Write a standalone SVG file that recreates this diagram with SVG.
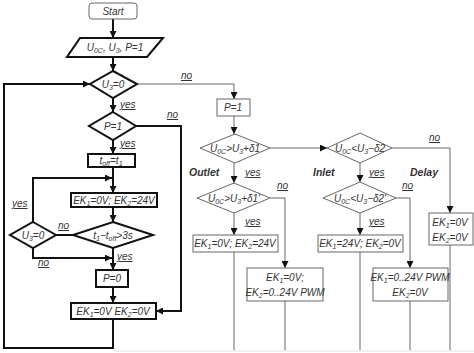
<svg xmlns="http://www.w3.org/2000/svg" width="474" height="353" viewBox="0 0 474 353">
<defs>
<style>
text{font-family:"Liberation Sans",Arial,sans-serif;font-style:italic;font-size:10px;fill:#333;text-anchor:middle}
.lbl{text-anchor:start;text-decoration:underline}
.bold{font-weight:bold;text-anchor:start;font-size:10.5px}
.sub{font-size:7px}
.thick{fill:#fff;stroke:#111;stroke-width:2}
.thin{fill:#fff;stroke:#666;stroke-width:1}
.lt{fill:none;stroke:#111;stroke-width:2}
.ln{fill:none;stroke:#666;stroke-width:1}
</style>
<marker id="ah" viewBox="0 0 10 10" refX="10" refY="5" markerUnits="userSpaceOnUse" markerWidth="9" markerHeight="7" orient="auto">
<path d="M0,0 L10,5 L0,10 z" fill="#111"/>
</marker>
</defs>
<g id="connectors">
<path class="lt" d="M113,19 V38" marker-end="url(#ah)"/>
<path class="lt" d="M113,57 V71" marker-end="url(#ah)"/>
<path class="lt" d="M113,98 V112" marker-end="url(#ah)"/>
<path class="lt" d="M113,140 V154" marker-end="url(#ah)"/>
<path class="lt" d="M113,167 V193" marker-end="url(#ah)"/>
<path class="lt" d="M113,207 V222" marker-end="url(#ah)"/>
<path class="lt" d="M113,248 V270" marker-end="url(#ah)"/>
<path class="lt" d="M113,287 V303" marker-end="url(#ah)"/>
<path class="lt" d="M113,319 V348 H4 V84 H90" marker-end="url(#ah)"/>
<path class="lt" d="M33,222 V178 H112" marker-end="url(#ah)"/>
<path class="lt" d="M56,235 H73"/>
<path class="lt" d="M33,248 V258 H112" marker-end="url(#ah)"/>
<path class="lt" d="M136,126 H181 V311 H156" marker-end="url(#ah)"/>
<path class="ln" d="M137,84 H234 V99" marker-end="url(#ah)"/>
<path class="ln" d="M234,116 V134" marker-end="url(#ah)"/>
<path class="ln" d="M234,163 V183" marker-end="url(#ah)"/>
<path class="ln" d="M270,148 H327" marker-end="url(#ah)"/>
<path class="ln" d="M360,163 V182" marker-end="url(#ah)"/>
<path class="ln" d="M392,148 H450 V213" marker-end="url(#ah)"/>
<path class="ln" d="M234,213 V235" marker-end="url(#ah)"/>
<path class="ln" d="M270,198 H285 V268" marker-end="url(#ah)"/>
<path class="ln" d="M360,213 V235" marker-end="url(#ah)"/>
<path class="ln" d="M396,198 H410 V268" marker-end="url(#ah)"/>
<path class="ln" d="M234,252 V350"/>
<path class="ln" d="M285,301 V350"/>
<path class="ln" d="M360,252 V350"/>
<path class="ln" d="M410,301 V350"/>
<path class="ln" d="M450,245 V350"/>
<path d="M115,351 H474" stroke="#e2e2e2" stroke-width="1" fill="none"/>
</g>
<g id="start">
<rect class="thin" x="89" y="3" width="48" height="16" rx="3"/>
<text x="113" y="15">Start</text>
</g>
<g id="input">
<polygon class="thick" points="80,38 163,38 147,57 67,57"/>
<text x="115" y="51">U<tspan class="sub" dy="2">0C</tspan><tspan dy="-2">, U</tspan><tspan class="sub" dy="2">3</tspan><tspan dy="-2">, P=1</tspan></text>
</g>
<g id="d_u3">
<polygon class="thick" points="113,71 137,84 113,98 90,84"/>
<text x="113" y="88">U<tspan class="sub" dy="2">3</tspan><tspan dy="-2">=0</tspan></text>
<text class="lbl" x="181" y="79">no</text>
<text class="lbl" x="120" y="108">yes</text>
</g>
<g id="d_p1">
<polygon class="thick" points="113,112 136,126 113,140 89,126"/>
<text x="113" y="130">P=1</text>
<text class="lbl" x="167" y="118">no</text>
<text class="lbl" x="120" y="147">yes</text>
</g>
<g id="toff">
<rect class="thick" x="88" y="154" width="47" height="13"/>
<text x="111" y="164">t<tspan class="sub" dy="2">off</tspan><tspan dy="-2">=t</tspan><tspan class="sub" dy="2">1</tspan></text>
</g>
<g id="ek_a">
<rect class="thick" x="71" y="193" width="86" height="14"/>
<text x="114" y="204">EK<tspan class="sub" dy="2">1</tspan><tspan dy="-2">=0V; EK</tspan><tspan class="sub" dy="2">2</tspan><tspan dy="-2">=24V</tspan></text>
</g>
<g id="d_u3b">
<polygon class="thick" points="33,222 56,235 33,248 10,235"/>
<text x="33" y="239">U<tspan class="sub" dy="2">3</tspan><tspan dy="-2">=0</tspan></text>
<text class="lbl" x="12" y="207">yes</text>
<text class="lbl" x="58" y="229">no</text>
<text class="lbl" x="38" y="266">no</text>
</g>
<g id="d_t">
<polygon class="thick" points="113,222 153,235 113,248 73,235"/>
<text x="113" y="239">t<tspan class="sub" dy="2">1</tspan><tspan dy="-2">−t</tspan><tspan class="sub" dy="2">off</tspan><tspan dy="-2">&gt;3s</tspan></text>
<text class="lbl" x="117" y="260">yes</text>
</g>
<g id="p0">
<rect class="thick" x="96" y="270" width="32" height="17"/>
<text x="112" y="282">P=0</text>
</g>
<g id="ek_b">
<rect class="thick" x="71" y="303" width="85" height="16"/>
<text x="113" y="315">EK<tspan class="sub" dy="2">1</tspan><tspan dy="-2">=0V EK</tspan><tspan class="sub" dy="2">2</tspan><tspan dy="-2">=0V</tspan></text>
</g>
<g id="p1box">
<rect class="thin" x="217" y="99" width="33" height="17"/>
<text x="233" y="111">P=1</text>
</g>
<g id="d1">
<polygon class="thin" points="235,134 270,148 235,163 200,148"/>
<text x="235" y="152">U<tspan class="sub" dy="2">0C</tspan><tspan dy="-2">&gt;U</tspan><tspan class="sub" dy="2">3</tspan><tspan dy="-2">+δ1</tspan></text>
<text class="bold" x="189" y="176">Outlet</text>
<text class="lbl" x="245" y="176">yes</text>
</g>
<g id="d2">
<polygon class="thin" points="360,133 392,148 360,163 327,148"/>
<text x="360" y="152">U<tspan class="sub" dy="2">0C</tspan><tspan dy="-2">&lt;U</tspan><tspan class="sub" dy="2">3</tspan><tspan dy="-2">−δ2</tspan></text>
<text class="bold" x="313" y="176">Inlet</text>
<text class="lbl" x="369" y="176">yes</text>
<text class="lbl" x="429" y="141">no</text>
<text class="bold" x="410" y="176">Delay</text>
</g>
<g id="d1p">
<polygon class="thin" points="234,183 270,198 234,213 197,198"/>
<text x="234" y="202">U<tspan class="sub" dy="2">0C</tspan><tspan dy="-2">&gt;U</tspan><tspan class="sub" dy="2">3</tspan><tspan dy="-2">+δ1'</tspan></text>
<text class="lbl" x="277" y="189">no</text>
<text class="lbl" x="245" y="225">yes</text>
</g>
<g id="d2p">
<polygon class="thin" points="360,182 396,198 360,213 323,198"/>
<text x="360" y="202">U<tspan class="sub" dy="2">0C</tspan><tspan dy="-2">&lt;U</tspan><tspan class="sub" dy="2">3</tspan><tspan dy="-2">−δ2'</tspan></text>
<text class="lbl" x="402" y="189">no</text>
<text class="lbl" x="369" y="225">yes</text>
</g>
<g id="box_out">
<rect class="thin" x="193" y="235" width="85" height="17"/>
<text x="235" y="247">EK<tspan class="sub" dy="2">1</tspan><tspan dy="-2">=0V; EK</tspan><tspan class="sub" dy="2">2</tspan><tspan dy="-2">=24V</tspan></text>
</g>
<g id="box_outpwm">
<rect class="thin" x="247" y="268" width="76" height="33"/>
<text x="285" y="281">EK<tspan class="sub" dy="2">1</tspan><tspan dy="-2">=0V;</tspan></text>
<text x="285" y="296">EK<tspan class="sub" dy="2">2</tspan><tspan dy="-2">=0..24V PWM</tspan></text>
</g>
<g id="box_in">
<rect class="thin" x="318" y="235" width="85" height="17"/>
<text x="360" y="247">EK<tspan class="sub" dy="2">1</tspan><tspan dy="-2">=24V; EK</tspan><tspan class="sub" dy="2">2</tspan><tspan dy="-2">=0V</tspan></text>
</g>
<g id="box_inpwm">
<rect class="thin" x="373" y="268" width="75" height="33"/>
<text x="410" y="281">EK<tspan class="sub" dy="2">1</tspan><tspan dy="-2">=0..24V PWM</tspan></text>
<text x="410" y="296">EK<tspan class="sub" dy="2">2</tspan><tspan dy="-2">=0V</tspan></text>
</g>
<g id="box_delay">
<rect class="thin" x="429" y="213" width="44" height="32"/>
<text x="450" y="226">EK<tspan class="sub" dy="2">1</tspan><tspan dy="-2">=0V</tspan></text>
<text x="450" y="241">EK<tspan class="sub" dy="2">2</tspan><tspan dy="-2">=0V</tspan></text>
</g>
</svg>
